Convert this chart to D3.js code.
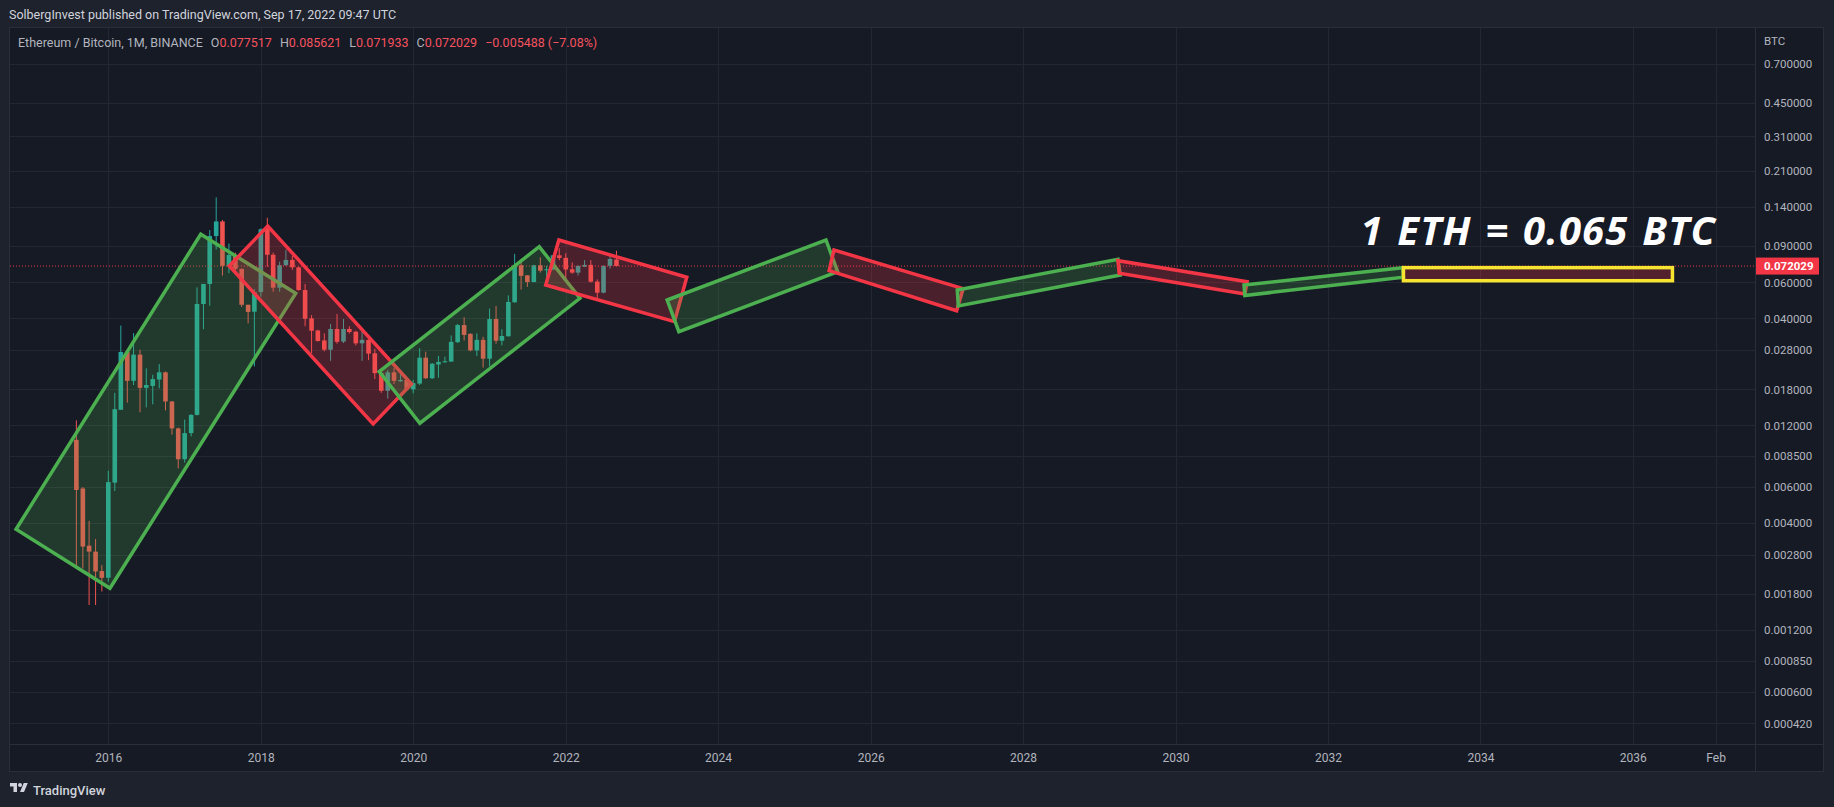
<!DOCTYPE html>
<html>
<head>
<meta charset="utf-8">
<script src="https://cdn.jsdelivr.net/npm/d3@7"></script>
<style>
  html, body { margin: 0; padding: 0; background: #1e222d; }
  svg { display: block; font-family: Roboto, "Noto Sans", sans-serif; }
</style>
</head>
<body>
<div id="chart"></div>
<script>
const width = 1834;
const height = 807;
const plot = { left: 10, top: 28, right: 1755, bottom: 744 };
const paneRight = 1823;
const paneBottom = 771;

// monthly ETH/BTC candles, Aug 2015 .. Sep 2022
const firstMonth = Date.UTC(2015, 7, 1);
const endMonth = Date.UTC(2022, 9, 1);
const opens = [
  0.0102, 0.0059, 0.0031, 0.0029, 0.00233, 0.00216, 0.0063, 0.0143, 0.0274, 0.0198,
  0.0266, 0.0183, 0.0187, 0.0201, 0.0218, 0.0157, 0.0116, 0.0082, 0.0110, 0.0135,
  0.0470, 0.0589, 0.101, 0.119, 0.0722, 0.0816, 0.0698, 0.0466, 0.0431, 0.0538,
  0.110, 0.0818, 0.0565, 0.0727, 0.0772, 0.0710, 0.0550, 0.0400, 0.0349, 0.0312,
  0.0281, 0.0355, 0.0308, 0.0355, 0.0344, 0.0302, 0.0314, 0.0270, 0.0216, 0.0177,
  0.0218, 0.0197, 0.0200, 0.0180, 0.0192, 0.0257, 0.0204, 0.0238, 0.0244, 0.0246,
  0.0306, 0.0371, 0.0336, 0.0279, 0.0314, 0.0254, 0.0397, 0.0311, 0.0327, 0.0479,
  0.0727, 0.0649, 0.0602, 0.0727, 0.0687, 0.0693, 0.0813, 0.0790, 0.0695, 0.0669,
  0.0715, 0.0730, 0.0605, 0.0534, 0.0722, 0.077517
];
const highs = [
  0.0127, 0.0060, 0.0041, 0.00334, 0.00249, 0.0072, 0.0173, 0.0369, 0.0281, 0.0339,
  0.0281, 0.0228, 0.0212, 0.0239, 0.0220, 0.0158, 0.0117, 0.0128, 0.0136, 0.0567,
  0.0589, 0.108, 0.156, 0.121, 0.0928, 0.0838, 0.0700, 0.0467, 0.0556, 0.110,
  0.124, 0.0838, 0.0757, 0.0865, 0.0807, 0.0717, 0.0589, 0.0415, 0.0352, 0.0338,
  0.0376, 0.0420, 0.0397, 0.0366, 0.0348, 0.0345, 0.0316, 0.0284, 0.0219, 0.0224,
  0.0229, 0.0218, 0.0201, 0.0200, 0.0286, 0.0275, 0.0242, 0.0262, 0.0260, 0.0330,
  0.0376, 0.0405, 0.0338, 0.0338, 0.0325, 0.0447, 0.0460, 0.0354, 0.0518, 0.0826,
  0.0778, 0.0650, 0.0730, 0.0795, 0.0722, 0.0813, 0.0880, 0.0832, 0.0751, 0.0725,
  0.0770, 0.0770, 0.0620, 0.0725, 0.0818, 0.085621
];
const lows = [
  0.0024, 0.0024, 0.00159, 0.00159, 0.00185, 0.00207, 0.00574, 0.0143, 0.0155, 0.0189,
  0.0139, 0.0147, 0.0152, 0.0182, 0.0142, 0.0108, 0.0074, 0.0079, 0.0106, 0.0134,
  0.0354, 0.0461, 0.087, 0.0647, 0.0665, 0.0677, 0.0455, 0.0378, 0.0233, 0.0511,
  0.0715, 0.0540, 0.0540, 0.0722, 0.0690, 0.0546, 0.0366, 0.0270, 0.0308, 0.0276,
  0.0248, 0.0301, 0.0303, 0.0337, 0.0295, 0.0248, 0.0250, 0.0202, 0.0173, 0.0162,
  0.0191, 0.0196, 0.0178, 0.0172, 0.0189, 0.0202, 0.0202, 0.0205, 0.0243, 0.0245,
  0.0303, 0.0312, 0.0276, 0.0262, 0.0230, 0.0233, 0.0301, 0.0295, 0.0326, 0.0478,
  0.0553, 0.0570, 0.0600, 0.0669, 0.0598, 0.0688, 0.0770, 0.0620, 0.0660, 0.0647,
  0.0712, 0.0598, 0.0496, 0.0530, 0.0700, 0.071933
];
const closes = [
  0.0058, 0.00307, 0.0029, 0.00232, 0.00216, 0.00634, 0.0144, 0.0274, 0.0198, 0.0266,
  0.0183, 0.0189, 0.0202, 0.0218, 0.0157, 0.0116, 0.0082, 0.0110, 0.0135, 0.0470,
  0.0589, 0.101, 0.119, 0.0722, 0.0816, 0.0698, 0.0466, 0.0430, 0.0538, 0.109,
  0.0818, 0.0565, 0.0727, 0.0772, 0.0710, 0.0550, 0.0398, 0.0348, 0.0310, 0.0281,
  0.0355, 0.0307, 0.0355, 0.0343, 0.0302, 0.0314, 0.0269, 0.0216, 0.0177, 0.0218,
  0.0198, 0.0200, 0.0180, 0.0193, 0.0257, 0.0204, 0.0240, 0.0245, 0.0247, 0.0307,
  0.0371, 0.0332, 0.0279, 0.0314, 0.0254, 0.0397, 0.0311, 0.0328, 0.0481, 0.0727,
  0.0645, 0.0602, 0.0727, 0.0684, 0.0695, 0.0813, 0.0789, 0.0693, 0.0669, 0.0722,
  0.0730, 0.0604, 0.0534, 0.0722, 0.0780, 0.072029
];

// price scale labels (TradingView log scale)
const yTicks = [0.7, 0.45, 0.31, 0.21, 0.14, 0.09, 0.06, 0.04, 0.028, 0.018,
  0.012, 0.0085, 0.006, 0.004, 0.0028, 0.0018, 0.0012, 0.00085, 0.0006, 0.00042];
const xTicks = ['2016-01-01', '2018-01-01', '2020-01-01', '2022-01-01', '2024-01-01', '2026-01-01',
  '2028-01-01', '2030-01-01', '2032-01-01', '2034-01-01', '2036-01-01', '2037-02-01'];
const xTickLabels = ['2016', '2018', '2020', '2022', '2024', '2026',
  '2028', '2030', '2032', '2034', '2036', 'Feb'];

// rotated rectangle drawings, corners as [date, price]
const zoneTrends = ['up', 'down', 'up', 'down', 'up', 'down', 'up', 'down', 'up'];
const zoneCorners = [
  [['2014-10-16', 0.00373], ['2017-03-19', 0.1030], ['2018-06-17', 0.0530], ['2016-01-09', 0.00192]],
  [['2017-08-03', 0.0721], ['2018-02-03', 0.1131], ['2019-12-24', 0.01912], ['2019-06-23', 0.01219]],
  [['2019-07-22', 0.02196], ['2021-08-27', 0.08956], ['2022-03-10', 0.05013], ['2020-02-02', 0.01229]],
  [['2021-09-27', 0.05823], ['2021-11-29', 0.09659], ['2023-08-04', 0.06348], ['2023-06-06', 0.03852]],
  [['2023-05-02', 0.04918], ['2025-06-01', 0.09659], ['2025-07-27', 0.06759], ['2023-06-27', 0.03443]],
  [['2025-06-16', 0.06840], ['2025-07-09', 0.08630], ['2027-03-20', 0.05586], ['2027-02-17', 0.04360]],
  [['2027-02-20', 0.05505], ['2029-03-31', 0.07772], ['2029-04-11', 0.06515], ['2027-02-25', 0.04597]],
  [['2029-04-06', 0.06641], ['2029-03-31', 0.07651], ['2030-12-10', 0.06041], ['2030-11-29', 0.05261]],
  [['2030-11-25', 0.05823], ['2032-12-24', 0.07076], ['2032-12-28', 0.06348], ['2030-11-29', 0.05173]]
];
const targetBox = [['2032-12-28', 0.07076], ['2036-07-09', 0.06109]];
const targetText = '1 ETH = 0.065 BTC';
const targetTextAt = ['2032-06-05', 0.0913];

const headerText = 'SolbergInvest published on TradingView.com, Sep 17, 2022 09:47 UTC';
const symbolText = 'Ethereum / Bitcoin, 1M, BINANCE';

const upColor = '#26a69a';
const downColor = '#ef5350';
const textColor = '#b2b5be';
const gridColor = '#232733';
const borderColor = '#2a2e39';

const months = d3.utcMonth.range(new Date(firstMonth), new Date(endMonth));
const candles = months.map((d, i) => ({
  date: d, open: opens[i], high: highs[i], low: lows[i], close: closes[i]
}));

// scales
const x = d3.scaleUtc()
  .domain([new Date('2016-01-01'), new Date('2036-01-01')])
  .range([108.3, 1632.8]);
const y = d3.scaleLog()
  .domain([0.0018, 0.14])
  .range([594, 207]);

const svg = d3.select('#chart').append('svg')
  .attr('width', width)
  .attr('height', height);

svg.append('rect')
  .attr('width', width).attr('height', height)
  .attr('fill', '#1e222d');

// chart pane background
svg.append('rect')
  .attr('x', plot.left).attr('y', plot.top)
  .attr('width', paneRight - plot.left).attr('height', paneBottom - plot.top)
  .attr('fill', '#161a25');

svg.append('defs').append('clipPath').attr('id', 'plot-clip')
  .append('rect')
  .attr('x', plot.left).attr('y', plot.top)
  .attr('width', plot.right - plot.left).attr('height', plot.bottom - plot.top);

// grid
const grid = svg.append('g').attr('clip-path', 'url(#plot-clip)');
grid.selectAll('line.h')
  .data(yTicks)
  .join('line')
  .attr('class', 'h')
  .attr('x1', plot.left).attr('x2', plot.right)
  .attr('y1', d => Math.round(y(d)) + 0.5).attr('y2', d => Math.round(y(d)) + 0.5)
  .attr('stroke', gridColor);
grid.selectAll('line.v')
  .data(xTicks)
  .join('line')
  .attr('class', 'v')
  .attr('x1', d => Math.round(x(new Date(d))) + 0.5).attr('x2', d => Math.round(x(new Date(d))) + 0.5)
  .attr('y1', plot.top).attr('y2', plot.bottom)
  .attr('stroke', gridColor);

const main = svg.append('g').attr('clip-path', 'url(#plot-clip)');

// candles
const bodyW = 4.6;
const candle = main.append('g').attr('id', 'candles')
  .selectAll('g')
  .data(candles)
  .join('g')
  .attr('fill', d => d.close >= d.open ? upColor : downColor);
candle.append('rect')
  .attr('x', d => x(d.date) - 0.5)
  .attr('width', 1)
  .attr('y', d => y(d.high))
  .attr('height', d => y(d.low) - y(d.high));
candle.append('rect')
  .attr('x', d => x(d.date) - bodyW / 2)
  .attr('width', bodyW)
  .attr('y', d => y(Math.max(d.open, d.close)))
  .attr('height', d => Math.max(1, Math.abs(y(d.open) - y(d.close))));

// last price line
const last = candles[candles.length - 1];
main.append('line')
  .attr('x1', plot.left).attr('x2', plot.right)
  .attr('y1', y(last.close)).attr('y2', y(last.close))
  .attr('stroke', '#f23645')
  .attr('stroke-width', 1)
  .attr('stroke-dasharray', '1,2');

// drawings
const zoneStyle = {
  up: { stroke: '#4caf50', fill: 'rgba(76,175,80,0.22)' },
  down: { stroke: '#f23645', fill: 'rgba(242,54,69,0.24)' }
};
const poly = d3.line();
main.append('g').attr('id', 'zones')
  .selectAll('path')
  .data(zoneCorners)
  .join('path')
  .attr('d', d => poly(d.map(p => [x(new Date(p[0])), y(p[1])])) + 'Z')
  .attr('fill', (d, i) => zoneStyle[zoneTrends[i]].fill)
  .attr('stroke', (d, i) => zoneStyle[zoneTrends[i]].stroke)
  .attr('stroke-width', 3.5)
  .attr('stroke-linejoin', 'miter');

const bx0 = x(new Date(targetBox[0][0])), bx1 = x(new Date(targetBox[1][0]));
const by0 = y(targetBox[0][1]), by1 = y(targetBox[1][1]);
main.append('rect')
  .attr('x', bx0).attr('y', by0)
  .attr('width', bx1 - bx0).attr('height', by1 - by0)
  .attr('fill', 'rgba(242,54,69,0.28)')
  .attr('stroke', '#f7e431')
  .attr('stroke-width', 3.5);

main.append('text')
  .attr('x', x(new Date(targetTextAt[0])))
  .attr('y', y(targetTextAt[1]))
  .attr('fill', '#ffffff')
  .style('font-family', '"Open Sans", sans-serif')
  .style('font-size', '40px')
  .style('font-weight', 700)
  .style('font-style', 'italic')
  .style('letter-spacing', '1.2px')
  .style('word-spacing', '2px')
  .text(targetText);

// price axis
const yAxis = d3.axisRight(y)
  .tickValues(yTicks)
  .tickSize(0)
  .tickPadding(9)
  .tickFormat(d3.format('.6f'));
const yAxisG = svg.append('g')
  .attr('transform', 'translate(' + plot.right + ',0)')
  .call(yAxis);
yAxisG.select('.domain').remove();
yAxisG.selectAll('text')
  .attr('fill', textColor)
  .style('font-size', '11.5px')
  .style('font-family', 'Roboto, sans-serif');

svg.append('text')
  .attr('x', plot.right + 9).attr('y', 41)
  .attr('dominant-baseline', 'central')
  .attr('fill', textColor)
  .style('font-size', '11.5px')
  .text('BTC');

// last price tag
const fmt6 = d3.format('.6f');
svg.append('rect')
  .attr('x', plot.right).attr('y', y(last.close) - 8.5)
  .attr('width', 64).attr('height', 17)
  .attr('fill', '#f23645');
svg.append('text')
  .attr('x', plot.right + 9).attr('y', y(last.close))
  .attr('dominant-baseline', 'central')
  .attr('fill', '#ffffff')
  .style('font-size', '11.5px')
  .style('font-weight', 700)
  .text(fmt6(last.close));

// time axis
const xAxis = d3.axisBottom(x)
  .tickValues(xTicks.map(d => new Date(d)))
  .tickSize(0)
  .tickPadding(9)
  .tickFormat((d, i) => xTickLabels[i]);
const xAxisG = svg.append('g')
  .attr('transform', 'translate(0,' + plot.bottom + ')')
  .call(xAxis);
xAxisG.select('.domain').remove();
xAxisG.selectAll('text')
  .attr('fill', textColor)
  .style('font-size', '12px')
  .style('font-family', 'Roboto, sans-serif');

// pane borders
svg.append('line')
  .attr('x1', plot.right + 0.5).attr('x2', plot.right + 0.5)
  .attr('y1', plot.top).attr('y2', paneBottom)
  .attr('stroke', borderColor);
svg.append('line')
  .attr('x1', plot.left).attr('x2', paneRight)
  .attr('y1', plot.bottom + 0.5).attr('y2', plot.bottom + 0.5)
  .attr('stroke', borderColor);
svg.append('rect')
  .attr('x', plot.left - 0.5).attr('y', plot.top - 0.5)
  .attr('width', paneRight - plot.left + 1).attr('height', paneBottom - plot.top + 1)
  .attr('fill', 'none')
  .attr('stroke', borderColor);

// header
svg.append('text')
  .attr('x', 9).attr('y', 14)
  .attr('dominant-baseline', 'central')
  .attr('fill', '#d1d4dc')
  .style('font-size', '12.5px')
  .text(headerText);

// legend with last candle values
const change = last.close - last.open;
const legend = svg.append('text')
  .attr('x', 18).attr('y', 42)
  .attr('dominant-baseline', 'central')
  .attr('fill', textColor)
  .style('font-size', '12.5px');
legend.append('tspan').text(symbolText);
[['O', last.open], ['H', last.high], ['L', last.low], ['C', last.close]].forEach(function(p) {
  legend.append('tspan').attr('dx', 8).text(p[0]);
  legend.append('tspan').attr('fill', '#f7525f').text(fmt6(p[1]));
});
legend.append('tspan').attr('dx', 8).attr('fill', '#f7525f')
  .text(d3.format('.6f')(change) + ' (' + d3.format('.2%')(change / last.open) + ')');

// footer logo
const logo = svg.append('g')
  .attr('transform', 'translate(10,781) scale(0.5)')
  .attr('fill', '#d1d4dc');
logo.append('path').attr('d', 'M14 22H7V11H0V4h14v18zM28 22h-8l7.5-18h8L28 22z');
logo.append('circle').attr('cx', 20).attr('cy', 8).attr('r', 4);
svg.append('text')
  .attr('x', 33).attr('y', 790)
  .attr('dominant-baseline', 'central')
  .attr('fill', '#d1d4dc')
  .style('font-size', '13px')
  .style('font-weight', 500)
  .text('TradingView');
</script>
</body>
</html>
